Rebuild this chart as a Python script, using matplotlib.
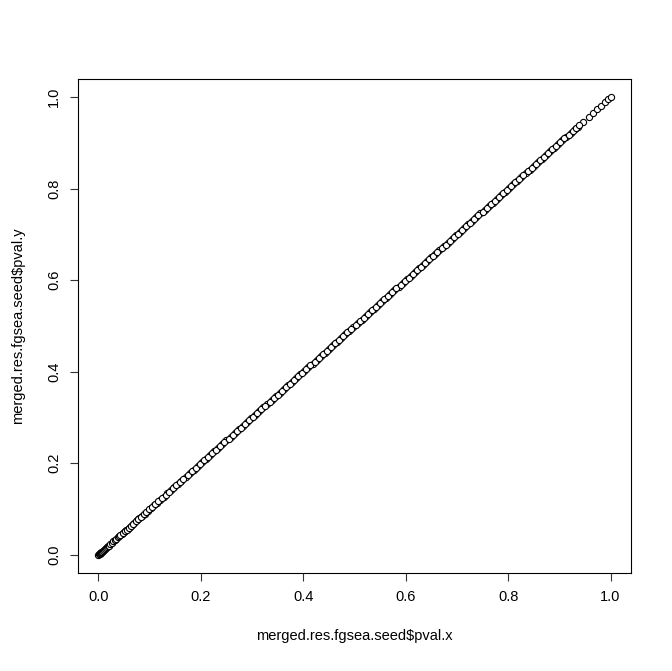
import matplotlib
matplotlib.use("Agg")
import matplotlib.pyplot as plt

pval_x = [0.000,0.001,0.002,0.003,0.004,0.005,0.006,0.008,0.010,0.012,0.014,0.016,0.018,0.020,0.023,0.026,0.029,0.032,0.035,0.038,
0.041,0.045,0.049,0.053,0.057,0.061,0.065,0.070,0.075,0.080,0.085,0.090,0.096,0.102,0.108,0.114,0.120,0.127,0.134,0.141,
0.148,0.155,0.162,0.170,0.178,0.186,0.194,0.202,0.210,0.218,0.226,0.234,0.242,0.250,0.258,0.266,0.274,0.282,0.290,0.298,
0.306,0.314,0.322,0.330,0.338,0.346,0.354,0.362,0.370,0.378,0.386,0.394,0.402,0.410,0.418,0.426,0.434,0.442,0.450,0.458,
0.466,0.474,0.482,0.490,0.498,0.506,0.514,0.522,0.530,0.538,0.546,0.554,0.562,0.570,0.578,0.586,0.594,0.602,0.610,0.618,
0.626,0.634,0.642,0.650,0.658,0.666,0.674,0.682,0.690,0.698,0.706,0.714,0.722,0.730,0.738,0.746,0.754,0.762,0.770,0.778,
0.786,0.794,0.802,0.810,0.818,0.826,0.834,0.842,0.850,0.858,0.866,0.874,0.882,0.890,0.898,0.906,0.914,0.922,0.930,0.936,
0.946,0.958,0.966,0.974,0.982,0.990,0.996,1.000,
0.043,0.047,0.051,0.055,0.059,0.063,0.068,0.073,0.078,0.083,0.088,0.093,0.099,0.105,0.111,0.117,0.124,0.131,0.138,0.145,
0.152,0.159,0.166,0.174,0.182,0.190,0.198,0.206,0.214,0.222,0.230,0.238,0.246,0.254,0.262,0.270,0.278,0.286,0.294,0.302,
0.310,0.318,0.326,0.334,0.342,0.350,0.358,0.366,0.374,0.382,0.390,0.398,0.406,0.414,0.422,0.430,0.438,0.446,0.454,0.462,
0.470,0.478,0.486,0.494,0.502,0.510,0.518,0.526,0.534,0.542,0.550,0.558,0.566,0.574,0.582,0.590,0.598,0.606,0.614,0.622,
0.630,0.638,0.646,0.654,0.662,0.670,0.678,0.686,0.694,0.702,0.710,0.718,0.726,0.734,0.742,0.750,0.758,0.766,0.774,0.782,
0.790,0.798,0.806,0.814,0.822,0.830,0.838,0.846,0.854,0.862,0.870,0.878,0.886,0.894,0.902,0.910,0.918,0.926,0.933,0.939]
pval_y = list(pval_x)
ticks = [0.0, 0.2, 0.4, 0.6, 0.8, 1.0]
tick_labels = ["0.0", "0.2", "0.4", "0.6", "0.8", "1.0"]

plt.rcParams['font.family'] = ['Liberation Sans', 'DejaVu Sans']
fig = plt.figure(figsize=(6.72, 6.71), dpi=100)
ax = fig.add_axes([78/672, 1-573/671, (631-78)/672, (573-79)/671])
ax.scatter(pval_x, pval_y, s=20, facecolors='white', edgecolors='black', linewidths=0.8, zorder=3)
ax.set_xlim(-0.04, 1.04)
ax.set_ylim(-0.04, 1.04)
ax.set_xticks(ticks)
ax.set_xticklabels(tick_labels)
ax.set_yticks(ticks)
ax.set_yticklabels(tick_labels, rotation=90, va='center')
ax.tick_params(labelsize=10.5, length=6, width=0.8, pad=6, colors='#333333', labelcolor='black')
for s in ax.spines.values():
    s.set_linewidth(0.8)
ax.set_xlabel("merged.res.fgsea.seed$pval.x", fontsize=10.5, labelpad=18)
ax.set_ylabel("merged.res.fgsea.seed$pval.y", fontsize=10.5, labelpad=16)
fig.savefig("out.png", dpi=100)
